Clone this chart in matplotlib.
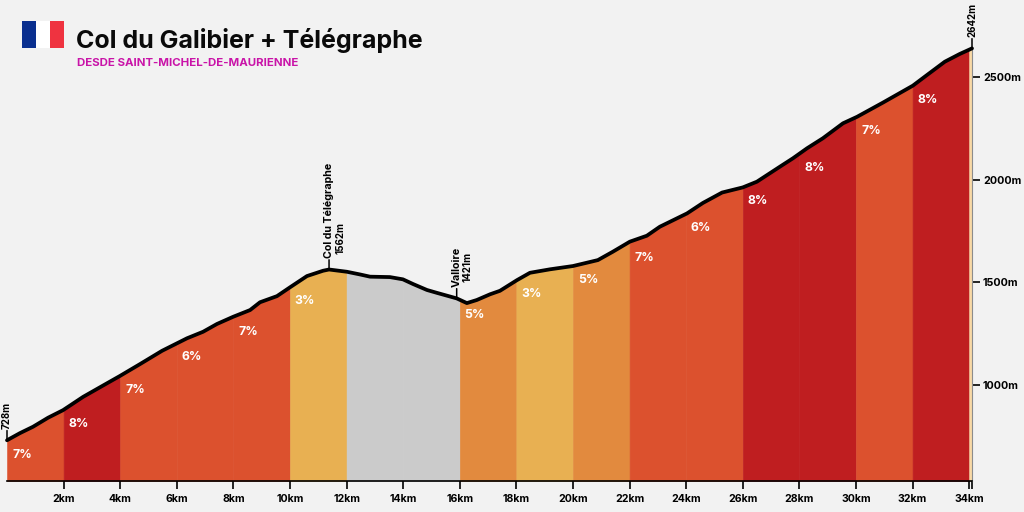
import numpy as np
import matplotlib
matplotlib.use("Agg")
import matplotlib.pyplot as plt
from matplotlib.patches import Rectangle

# profile of the climb: distance (km) and altitude (m)
km = [0, 0.46, 0.92, 1.45, 1.98, 2.69, 3.53, 3.99, 4.70, 5.48, 6.36, 6.93, 7.42, 7.99,
      8.59, 8.94, 9.54, 10.0, 10.6, 11.17, 11.38, 12.01, 12.47, 12.83, 13.53, 13.99,
      14.35, 14.84, 15.19, 15.89, 16.25, 16.6, 17.07, 17.42, 18.02, 18.48, 19.19, 20.0,
      20.88, 21.41, 22.01, 22.61, 23.07, 24.03, 24.59, 25.27, 26.0, 26.5, 27.31, 27.77,
      28.27, 28.83, 29.54, 30.04, 30.95, 32.01, 32.51, 33.14, 33.67, 34.1]
alt = [728, 763, 794, 838, 875, 940, 1006, 1042, 1100, 1165, 1226, 1258, 1296, 1331,
       1364, 1402, 1432, 1475, 1530, 1556, 1562, 1551, 1538, 1527, 1525, 1514,
       1491, 1462, 1448, 1421, 1398, 1413, 1441, 1458, 1510, 1546, 1563, 1579,
       1608, 1649, 1698, 1727, 1771, 1836, 1887, 1938, 1963, 1991, 2064, 2105,
       2154, 2203, 2276, 2308, 2377, 2460, 2512, 2577, 2615, 2642]

# gradient of each 2 km stretch, None where the road goes down
seg_start = [0, 2, 4, 6, 8, 10, 12, 14, 16, 18, 20, 22, 24, 26, 28, 30, 32, 34]
seg_pct = [7, 8, 7, 6, 7, 3, None, None, 5, 3, 5, 7, 6, 8, 8, 7, 8, 2]
pct_shift = [23, 24, 23, 21, 21, 24, None, None, 14, 21, 18, 21, 24, 20, 24, 22, 25, None]

km_ticks = list(range(2, 36, 2))
alt_ticks = [1000, 1500, 2000, 2500]

# points of interest: km, altitude, name
places = [(0, 728, None), (11.38, 1562, "Col du Télégraphe"), (15.89, 1421, "Valloire"), (34.1, 2642, None)]

colors = {2: "#f8d9a6", 3: "#e8b052", 5: "#e28a3e", 6: "#dc512e", 7: "#dc512e", 8: "#bf1e20", None: "#cbcbcb"}

plt.rcParams["font.family"] = ["Inter", "Noto Sans", "DejaVu Sans"]
plt.rcParams["font.weight"] = "bold"

fig = plt.figure(figsize=(10.24, 5.12), dpi=100, facecolor="#f2f2f2")
ax = fig.add_axes([7 / 1024, 31 / 512, 965 / 1024, 441 / 512])
ax.set_facecolor("#f2f2f2")
ax.set_xlim(0, 34.1)
ax.set_ylim(529, 2683)

# coloured stretches under the line, the thin edge closes the seams between them
for i, start in enumerate(seg_start):
    end = seg_start[i + 1] if i + 1 < len(seg_start) else km[-1]
    inner = [k for k in km if start < k < end]
    xs = [start] + inner + [end]
    ax.fill_between(xs, np.interp(xs, km, alt), 529, color=colors[seg_pct[i]], lw=0.4)
    if seg_pct[i] is not None and pct_shift[i] is not None:
        lx = start + 0.53
        ax.annotate(f"{seg_pct[i]}%", (lx, np.interp(lx, km, alt)), xytext=(0, -pct_shift[i] * 0.72),
                    textcoords="offset points", ha="center", va="center", color="white", fontsize=8.8)

ax.plot(km, alt, color="black", lw=2.7, solid_capstyle="round", solid_joinstyle="round", clip_on=False, zorder=5)

for spine in ["top", "left"]:
    ax.spines[spine].set_visible(False)
ax.spines["bottom"].set_linewidth(1.2)
ax.spines["right"].set_color("#8c8c8c")
ax.spines["right"].set_linewidth(0.8)
ax.spines["right"].set_bounds(529, 2642)

ax.set_xticks(km_ticks)
ax.set_xticklabels([f"{k}km" for k in km_ticks])
# second tick at the very end of the profile
ax.set_xticks([km[-1]], minor=True)
ax.yaxis.tick_right()
ax.set_yticks(alt_ticks)
ax.set_yticklabels([f"{a}m" for a in alt_ticks])
ax.tick_params(axis="x", which="both", length=6, width=1.2)
ax.tick_params(axis="x", which="major", pad=3, labelsize=7.6)
ax.tick_params(axis="y", length=5.4, width=1.2, pad=2.5, labelsize=7.7)

# markers and vertical labels above the line
for p_km, p_alt, name in places:
    ax.annotate("", xy=(p_km, p_alt), xytext=(0, 7), textcoords="offset points",
                arrowprops=dict(arrowstyle="-", color="black", lw=1.1, shrinkA=0, shrinkB=0), annotation_clip=False)
    if name:
        ax.annotate(name, (p_km, p_alt), xytext=(0, 8), textcoords="offset points", rotation=90,
                    ha="center", va="bottom", fontsize=7.7, annotation_clip=False)
        ax.annotate(f"{p_alt}m", (p_km, p_alt), xytext=(8, 11.5), textcoords="offset points", rotation=90,
                    ha="center", va="bottom", fontsize=7, annotation_clip=False)
    else:
        ax.annotate(f"{p_alt}m", (p_km, p_alt), xytext=(0, 8), textcoords="offset points", rotation=90,
                    ha="center", va="bottom", fontsize=7, annotation_clip=False)

# flag
for x0, w, c in [(22, 14, "#0a2f8f"), (36, 14, "#ffffff"), (50, 14, "#ef3340")]:
    fig.add_artist(Rectangle((x0 / 1024, 1 - 48 / 512), w / 1024, 27 / 512, transform=fig.transFigure, color=c, lw=0))

fig.text(76 / 1024, 1 - 48 / 512, "Col du Galibier + Télégraphe", fontsize=18, color="#0a0a0a", va="baseline")
fig.text(77 / 1024, 1 - 66.5 / 512, "DESDE SAINT-MICHEL-DE-MAURIENNE", fontsize=8.25, color="#c914a8", va="baseline")

fig.savefig("out.png", dpi=100, facecolor=fig.get_facecolor())
